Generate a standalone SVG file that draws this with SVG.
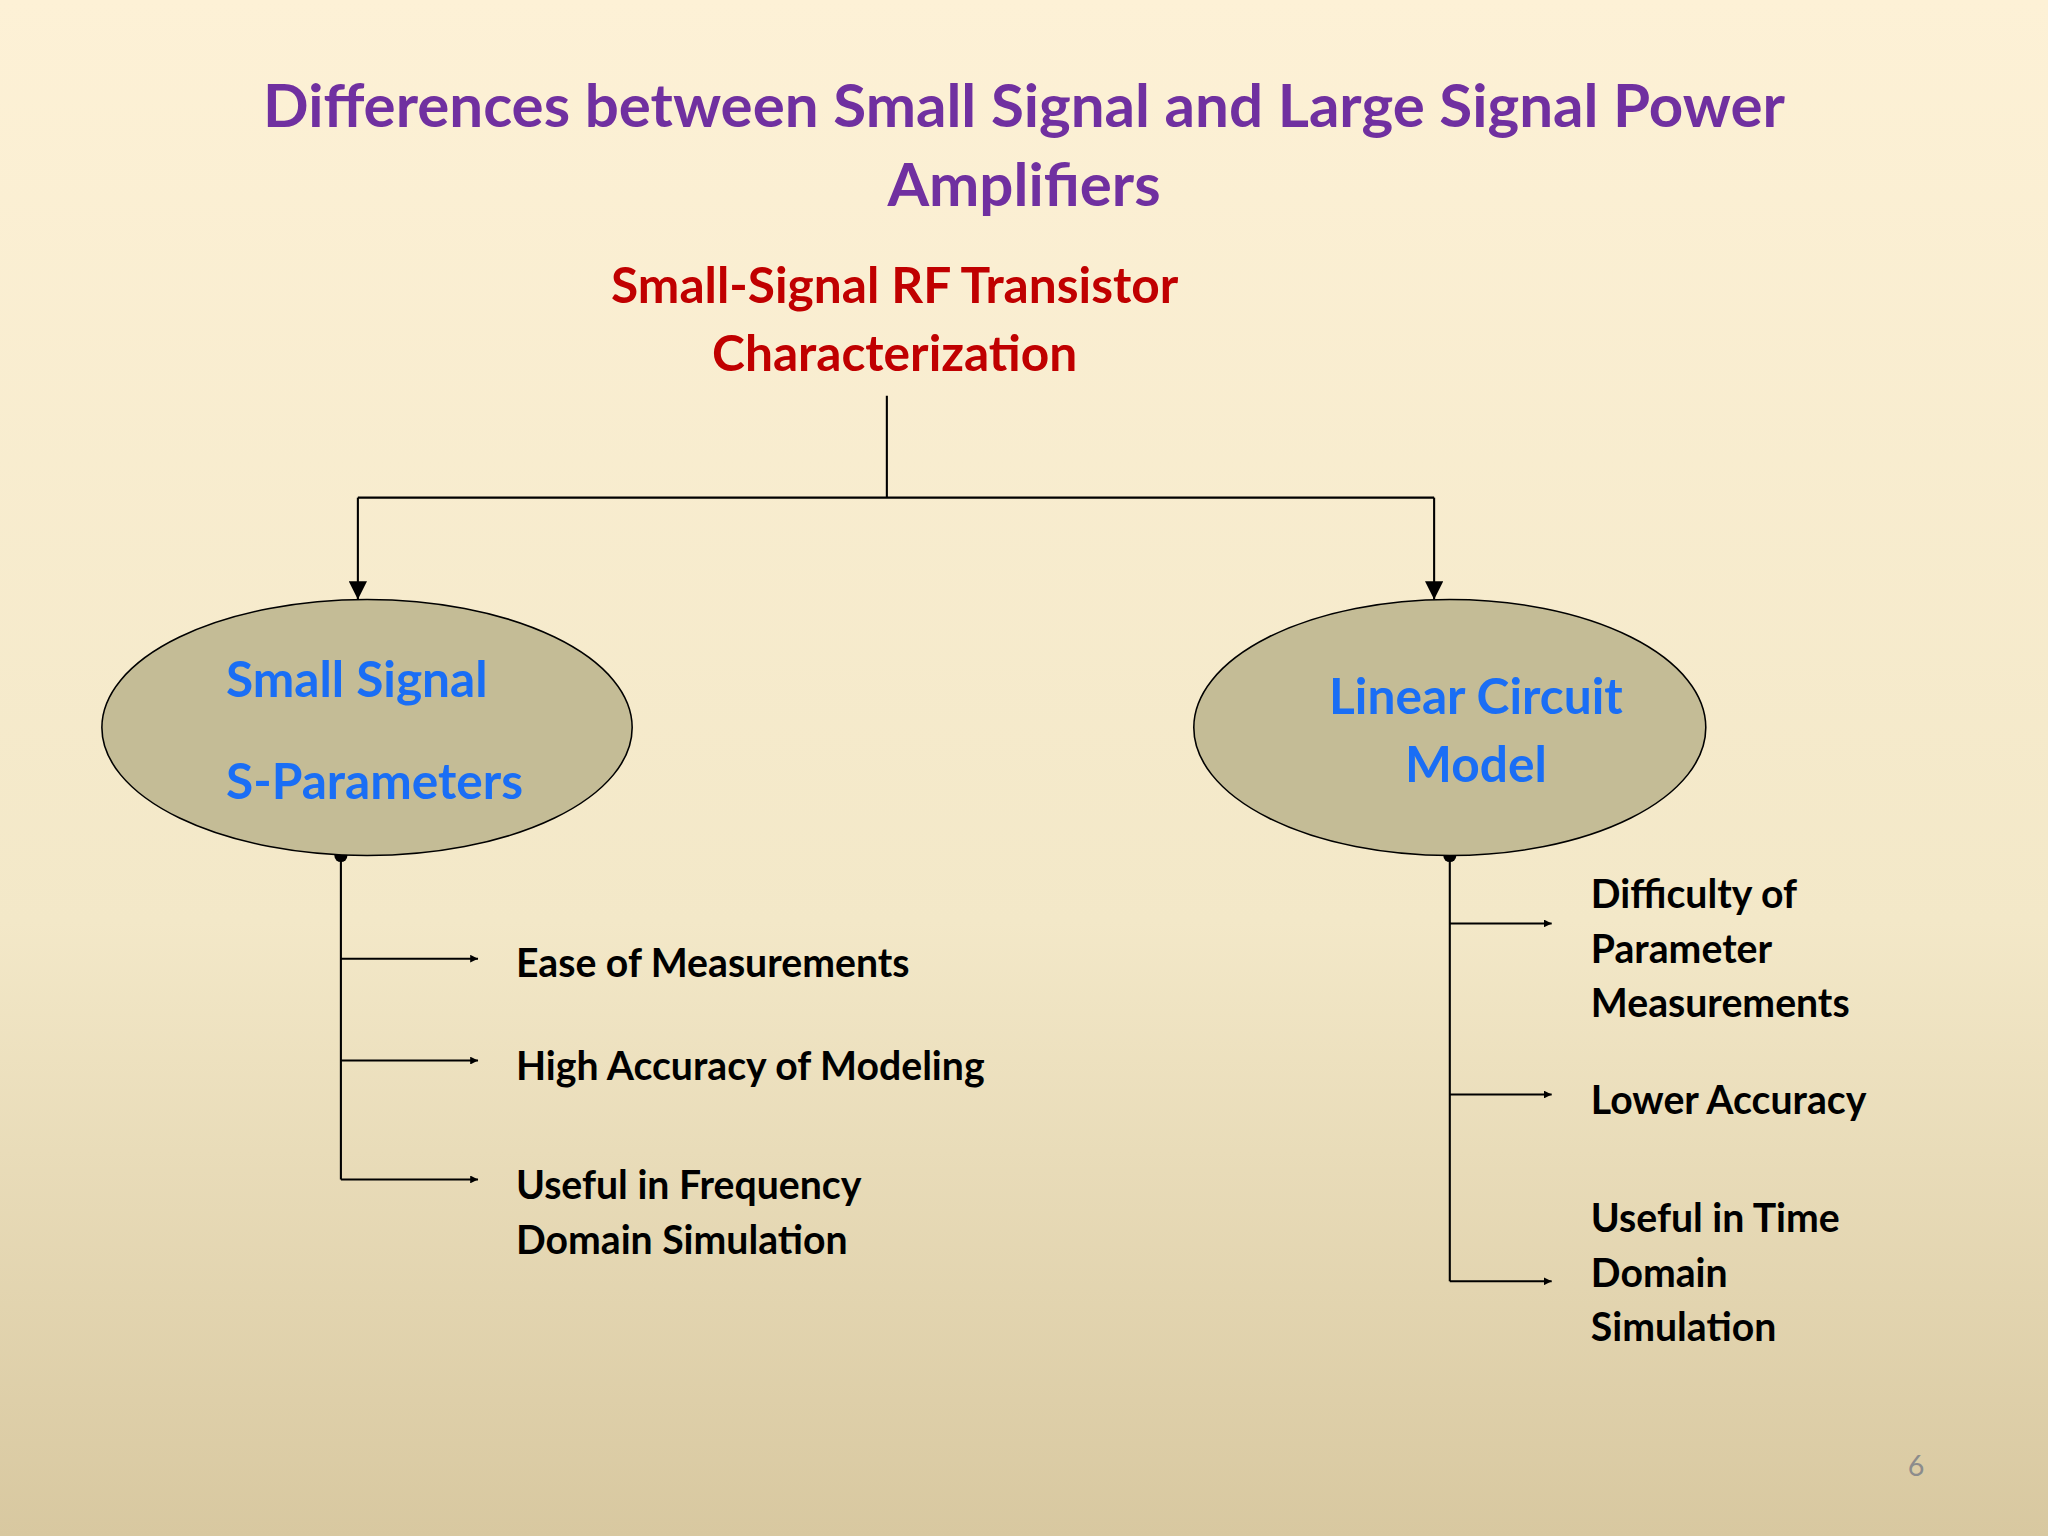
<svg xmlns="http://www.w3.org/2000/svg" width="2048" height="1536" viewBox="0 0 2048 1536">
<defs>
<linearGradient id="bg" x1="0" y1="0" x2="0" y2="1">
<stop offset="0" stop-color="#fdf1d6"/><stop offset="0.6" stop-color="#f3e8c8"/><stop offset="1" stop-color="#d8c8a0"/>
</linearGradient>
<marker id="ah" viewBox="0 0 10 10" refX="10" refY="5" markerWidth="6" markerHeight="6" orient="auto" markerUnits="userSpaceOnUse"><path d="M0,0 L10,5 L0,10 z" fill="#000"/></marker>
<marker id="ahb" viewBox="0 0 10 10" refX="10" refY="5" markerWidth="14" markerHeight="14" orient="auto" markerUnits="userSpaceOnUse"><path d="M0,0 L10,5 L0,10 z" fill="#000"/></marker>
<style>
text{font-family:Lato,"Open Sans","Liberation Sans",sans-serif;font-weight:bold}
.t{fill:#7030a0;font-size:46px}
.r{fill:#c00000;font-size:38px}
.b{fill:#1a6ef5;font-size:38px}
.k{fill:#000;font-size:30px}
.l{stroke:#000;stroke-width:1.6;fill:none}
.e{fill:#c4bc96;stroke:#000;stroke-width:1.2}
</style>
</defs>
<rect width="2048" height="1536" fill="url(#bg)"/>
<g transform="scale(1.306122)">
<g id="title"><text class="t" x="784" y="97" text-anchor="middle">Differences between Small Signal and Large Signal Power</text><text class="t" x="784" y="158" text-anchor="middle">Amplifiers</text></g>
<g id="root"><text class="r" x="685" y="232" text-anchor="middle">Small-Signal RF Transistor</text><text class="r" x="685" y="284" text-anchor="middle">Characterization</text></g>
<g id="connectors">
<path class="l" d="M679,303 V381 M274,381 H1098"/>
<path class="l" d="M274,381 V459" marker-end="url(#ahb)"/>
<path class="l" d="M1098,381 V459" marker-end="url(#ahb)"/>
<path class="l" d="M261,655 V903 M1110,655 V981"/>
<path class="l" d="M261,734 H366" marker-end="url(#ah)"/>
<path class="l" d="M261,812 H366" marker-end="url(#ah)"/>
<path class="l" d="M261,903 H366" marker-end="url(#ah)"/>
<path class="l" d="M1110,707 H1188" marker-end="url(#ah)"/>
<path class="l" d="M1110,838 H1188" marker-end="url(#ah)"/>
<path class="l" d="M1110,981 H1188" marker-end="url(#ah)"/>
<circle cx="261" cy="655" r="5"/><circle cx="1110" cy="655" r="5"/>
</g>
<g id="small"><ellipse class="e" cx="281" cy="557" rx="203" ry="98"/><text class="b" x="173" y="534">Small Signal</text><text class="b" x="173" y="612">S-Parameters</text></g>
<g id="linear"><ellipse class="e" cx="1110" cy="557" rx="196" ry="98"/><text class="b" x="1130" y="547" text-anchor="middle">Linear Circuit</text><text class="b" x="1130" y="599" text-anchor="middle">Model</text></g>
<g id="l1"><text class="k" x="395" y="748">Ease of Measurements</text></g>
<g id="l2"><text class="k" x="395" y="827">High Accuracy of Modeling</text></g>
<g id="l3"><text class="k" x="395" y="918">Useful in Frequency</text><text class="k" x="395" y="960">Domain Simulation</text></g>
<g id="r1"><text class="k" x="1218" y="695">Difficulty of</text><text class="k" x="1218" y="737">Parameter</text><text class="k" x="1218" y="779">Measurements</text></g>
<g id="r2"><text class="k" x="1218" y="853">Lower Accuracy</text></g>
<g id="r3"><text class="k" x="1218" y="943">Useful in Time</text><text class="k" x="1218" y="985">Domain</text><text class="k" x="1218" y="1027">Simulation</text></g>
<text x="1467" y="1130" text-anchor="middle" style="font-weight:normal;font-size:22px;fill:#8c8c8c">6</text>
</g>
</svg>
